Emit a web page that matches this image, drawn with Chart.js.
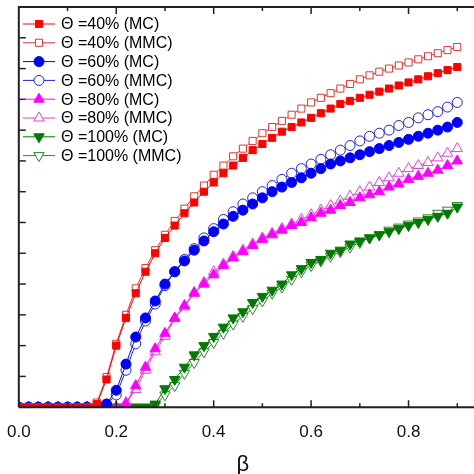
<!DOCTYPE html>
<html>
<head>
<meta charset="utf-8">
<script src="https://cdn.jsdelivr.net/npm/chart.js@4.4.0/dist/chart.umd.min.js"></script>
<style>
  html, body { margin: 0; padding: 0; background: #fff; }
  #wrap { width: 474px; height: 474px; }
</style>
</head>
<body>
<div id="wrap"><canvas id="chart"></canvas></div>
<script>
"use strict";
var betas = [0.00,0.02,0.04,0.06,0.08,0.10,0.12,0.14,0.16,0.18,0.20,0.22,0.24,0.26,0.28,0.30,
  0.32,0.34,0.36,0.38,0.40,0.42,0.44,0.46,0.48,0.50,0.52,0.54,0.56,0.58,0.60,0.62,0.64,0.66,
  0.68,0.70,0.72,0.74,0.76,0.78,0.80,0.82,0.84,0.86,0.88,0.90];

// theta = 40%
var mc40 = [0,0,0,0,0,0,0,0,
  0.01,0.09,0.20,0.29,0.37,0.44,0.50,0.55,0.59,0.63,0.665,0.70,0.73,0.76,0.785,0.81,0.835,0.855,
  0.875,0.895,0.91,0.925,0.94,0.955,0.97,0.985,0.995,1.005,1.015,1.025,1.035,1.045,1.055,1.065,
  1.075,1.085,1.095,1.105];
var mmc40 = [0,0,0,0,0,0,0,0,
  0.015,0.098,0.206,0.30,0.386,0.452,0.51,0.56,0.605,0.645,0.685,0.72,0.755,0.785,0.815,0.84,
  0.865,0.89,0.91,0.93,0.95,0.97,0.99,1.005,1.02,1.035,1.05,1.065,1.078,1.09,1.10,1.11,1.12,
  1.13,1.14,1.15,1.16,1.17];
// theta = 60%
var mc60 = [0,0,0,0,0,0,0,0,0,
  0.01,0.055,0.14,0.228,0.29,0.345,0.40,0.44,0.475,0.51,0.54,0.57,0.595,0.62,0.64,0.66,0.68,
  0.70,0.715,0.73,0.745,0.76,0.775,0.79,0.80,0.81,0.82,0.83,0.84,0.85,0.86,0.87,0.88,0.89,0.90,
  0.91,0.925];
var mmc60 = [0,0,0,0,0,0,0,0,0,
  0.01,0.04,0.12,0.206,0.28,0.335,0.395,0.44,0.48,0.515,0.55,0.58,0.61,0.635,0.66,0.68,0.70,
  0.72,0.74,0.76,0.775,0.79,0.805,0.82,0.835,0.85,0.865,0.88,0.89,0.90,0.915,0.925,0.94,0.95,
  0.96,0.975,0.99];
// theta = 80%
var mc80 = [0,0,0,0,0,0,0,0,0,0,0,
  0.01,0.07,0.13,0.19,0.24,0.29,0.33,0.37,0.40,0.43,0.46,0.485,0.505,0.525,0.545,0.56,0.575,
  0.59,0.60,0.615,0.63,0.64,0.655,0.665,0.68,0.69,0.70,0.715,0.725,0.74,0.75,0.76,0.77,0.785,0.80];
var mmc80 = [0,0,0,0,0,0,0,0,0,0,0,
  0.015,0.057,0.12,0.18,0.23,0.288,0.326,0.373,0.405,0.44,0.465,0.49,0.51,0.53,0.55,0.565,0.58,
  0.595,0.61,0.625,0.64,0.655,0.67,0.685,0.70,0.715,0.73,0.745,0.76,0.775,0.785,0.795,0.81,0.825,0.84];
// theta = 100%
var mc100 = [0,0,0,0,0,0,0,0,0,0,0,0,0,0,
  0.01,0.06,0.09,0.13,0.17,0.20,0.23,0.26,0.29,0.31,0.34,0.36,0.38,0.40,0.43,0.45,0.47,0.48,
  0.50,0.51,0.53,0.54,0.55,0.56,0.57,0.58,0.59,0.60,0.61,0.62,0.63,0.65];
var mmc100 = [0,0,0,0,0,0,0,0,0,0,0,0,0,0,
  0.005,0.04,0.07,0.11,0.145,0.18,0.21,0.24,0.27,0.295,0.32,0.345,0.37,0.39,0.415,0.44,0.46,
  0.475,0.49,0.505,0.52,0.535,0.55,0.56,0.575,0.585,0.595,0.605,0.615,0.63,0.64,0.655];

var labels = ["\u0398 =40% (MC)", "\u0398 =40% (MMC)", "\u0398 =60% (MC)", "\u0398 =60% (MMC)",
  "\u0398 =80% (MC)", "\u0398 =80% (MMC)", "\u0398 =100% (MC)", "\u0398 =100% (MMC)"];
var xTicks = [0.0, 0.2, 0.4, 0.6, 0.8];

function pts(arr) {
    var out = [];
    for (var i = 0; i < betas.length; i++) {
        out.push({x: betas[i], y: arr[i]});
    }
    return out;
}

function ds(label, arr, color, style, filled, rot) {
    return {
        label: label,
        data: pts(arr),
        borderColor: color,
        borderWidth: 1,
        backgroundColor: filled ? color : "#ffffff",
        pointStyle: style,
        pointRotation: rot || 0,
        pointRadius: style == "triangle" ? 6 : 5,
        pointBorderWidth: 1,
        pointBorderColor: color
    };
}

var series = [
    ds(labels[0], mc40, "#ff0000", "rect", true),
    ds(labels[1], mmc40, "#e0362e", "rect", false),
    ds(labels[2], mc60, "#0000ff", "circle", true),
    ds(labels[3], mmc60, "#2020e0", "circle", false),
    ds(labels[4], mc80, "#ff00ff", "triangle", true),
    ds(labels[5], mmc80, "#e040e0", "triangle", false),
    ds(labels[6], mc100, "#007a00", "triangle", true, 180),
    ds(labels[7], mmc100, "#2a8a2a", "triangle", false, 180)
];

var framePlugin = {
    id: "frame",
    afterDraw: function(chart) {
        var c = chart.ctx, a = chart.chartArea;
        c.save();
        c.strokeStyle = "#222";
        c.lineWidth = 2;
        c.beginPath();
        c.moveTo(a.left, a.bottom);
        c.lineTo(a.left, a.top);
        c.lineTo(chart.width + 5, a.top);
        c.moveTo(a.left, a.bottom);
        c.lineTo(chart.width + 5, a.bottom);
        c.stroke();
        // inward ticks
        c.lineWidth = 1.5;
        var xs = chart.scales.x, ys = chart.scales.y;
        for (var v = 0.1; v < 0.95; v += 0.1) {
            var px = xs.getPixelForValue(v);
            var len = (Math.round(v * 10) % 2 == 0) ? 7 : 4;
            c.beginPath(); c.moveTo(px, a.bottom); c.lineTo(px, a.bottom - len);
            c.moveTo(px, a.top); c.lineTo(px, a.top + len); c.stroke();
        }
        for (var w = 0.1; w < 1.3; w += 0.1) {
            var py = ys.getPixelForValue(w);
            c.beginPath(); c.moveTo(a.left, py); c.lineTo(a.left + 7, py); c.stroke();
        }
        // legend
        c.font = "16px 'Liberation Sans', Arial, sans-serif";
        c.textBaseline = "middle";
        for (var i = 0; i < series.length; i++) {
            var s = series[i];
            var y = 24 + i * 18.8;
            c.strokeStyle = s.borderColor;
            c.lineWidth = 1;
            c.beginPath(); c.moveTo(23, y); c.lineTo(55, y); c.stroke();
            c.fillStyle = s.backgroundColor;
            c.strokeStyle = s.borderColor;
            Chart.helpers.drawPoint(c, {
                pointStyle: s.pointStyle, rotation: s.pointRotation,
                radius: s.pointRadius, borderWidth: 1
            }, 39, y);
            c.fillStyle = "#000";
            c.fillText(s.label, 61, y + 1);
        }
        c.restore();
    }
};

new Chart(document.getElementById("chart").getContext("2d"), {
    type: "line",
    data: { datasets: series },
    options: {
        responsive: true,
        maintainAspectRatio: false,
        animation: false,
        layout: { padding: { left: -9, top: 3, right: -14, bottom: -8 } },
        plugins: { legend: { display: false }, tooltip: { enabled: false } },
        scales: {
            x: {
                type: "linear",
                min: 0, max: 0.92,
                border: { display: false },
                grid: { display: false },
                afterBuildTicks: function(axis) {
                    axis.ticks = xTicks.map(function(v) { return {value: v}; });
                },
                ticks: {
                    color: "#111",
                    font: { size: 17, family: "'Liberation Sans', Arial, sans-serif" },
                    padding: 7,
                    callback: function(v) { return v.toFixed(1); }
                },
                title: {
                    display: true, text: "\u03b2", color: "#111",
                    font: { size: 22, family: "'Liberation Sans', Arial, sans-serif" },
                    padding: { top: 2 }
                }
            },
            y: {
                min: 0, max: 1.3,
                border: { display: false },
                grid: { display: false },
                ticks: { display: false },
                afterFit: function(axis) { axis.width = 9; }
            }
        }
    },
    plugins: [framePlugin]
});
</script>
</body>
</html>
